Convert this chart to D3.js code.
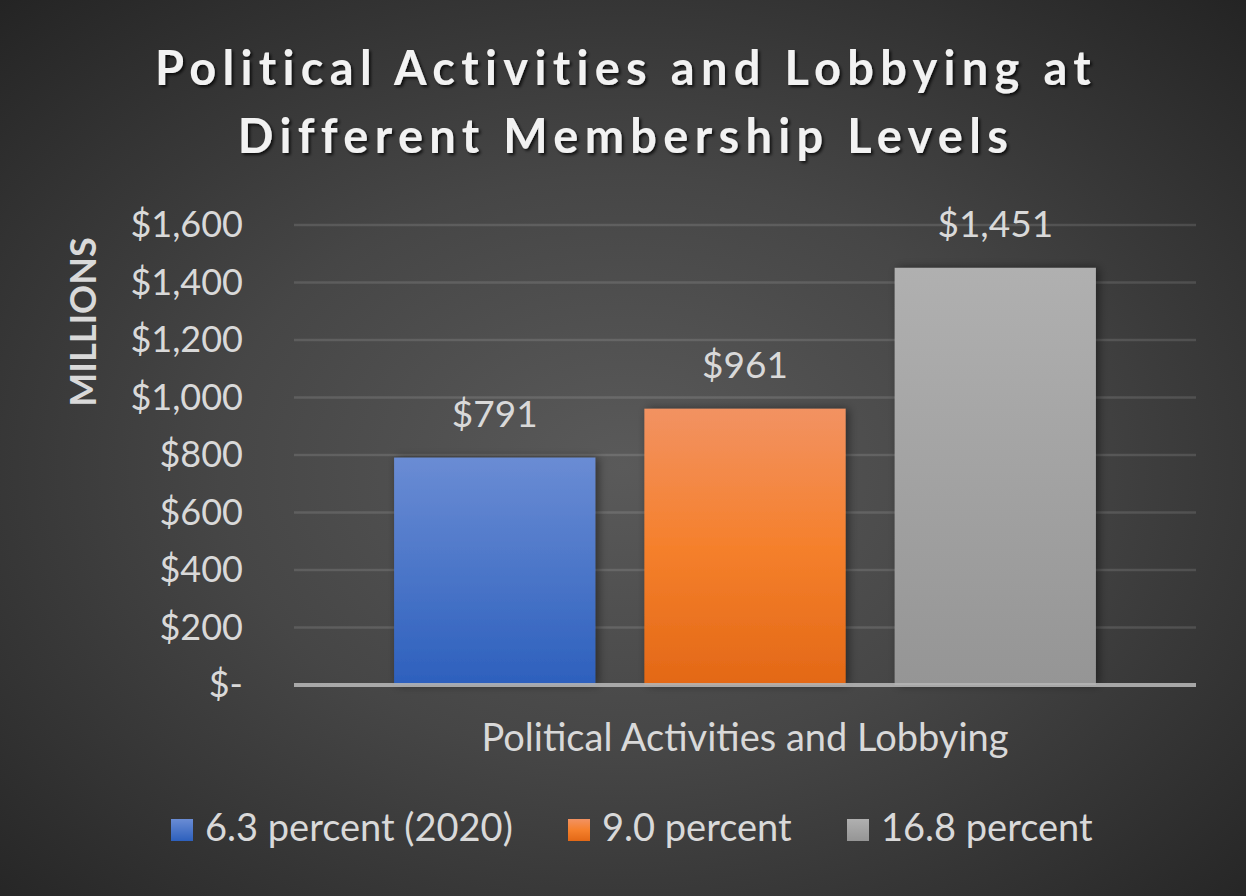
<!DOCTYPE html>
<html>
<head>
<meta charset="utf-8">
<script src="https://cdn.jsdelivr.net/npm/d3@7"></script>
<style>
  html, body { margin: 0; padding: 0; background: #2a2a2a; }
  svg { display: block; }
  text { font-family: Lato, "Open Sans", sans-serif; }
</style>
</head>
<body>
<svg id="chart" width="1246" height="896"></svg>
<script>
const titleLines = ["Political Activities and Lobbying at", "Different Membership Levels"];
const category = "Political Activities and Lobbying";
const seriesNames = ["6.3 percent (2020)", "9.0 percent", "16.8 percent"];
const seriesValues = [791, 961, 1451];
const dataLabels = ["$791", "$961", "$1,451"];
const yTicks = [0, 200, 400, 600, 800, 1000, 1200, 1400, 1600];
const yTickLabels = ["$-", "$200", "$400", "$600", "$800", "$1,000", "$1,200", "$1,400", "$1,600"];
const yAxisTitle = "MILLIONS";
const seriesColors = [
  ["#6a8cd4", "#2d60bd"],
  ["#f29262", "#f5802c", "#e36816"],
  ["#b0b0b0", "#959595"]
];

const W = 1246, H = 896;
const svg = d3.select("#chart");
const defs = svg.append("defs");

// background
const bg = defs.append("radialGradient").attr("id", "bg")
  .attr("cx", "50%").attr("cy", "52%").attr("r", "72%");
bg.append("stop").attr("offset", "0%").attr("stop-color", "#5a5a5a");
bg.append("stop").attr("offset", "45%").attr("stop-color", "#464646");
bg.append("stop").attr("offset", "100%").attr("stop-color", "#242424");
svg.append("rect").attr("width", W).attr("height", H).attr("fill", "url(#bg)");

// bar gradients
seriesColors.forEach((cols, i) => {
  const g = defs.append("linearGradient").attr("id", "bar" + i)
    .attr("x1", 0).attr("y1", 0).attr("x2", 0).attr("y2", 1);
  cols.forEach((c, j) => g.append("stop")
    .attr("offset", (j / (cols.length - 1) * 100) + "%").attr("stop-color", c));
});

const shadow = defs.append("filter").attr("id", "shadow")
  .attr("x", "-20%").attr("y", "-20%").attr("width", "140%").attr("height", "140%");
shadow.append("feDropShadow").attr("dx", 3).attr("dy", 0).attr("stdDeviation", 5)
  .attr("flood-color", "#000").attr("flood-opacity", 0.45);

const tshadow = defs.append("filter").attr("id", "tshadow")
  .attr("x", "-10%").attr("y", "-30%").attr("width", "120%").attr("height", "160%");
tshadow.append("feDropShadow").attr("dx", 2).attr("dy", 2).attr("stdDeviation", 1.6)
  .attr("flood-color", "#000").attr("flood-opacity", 0.75);

// scales
const left = 294, right = 1196;
const y = d3.scaleLinear().domain([0, 1600]).range([685, 225]);
const x0 = d3.scaleBand().domain([category]).range([left, right]).padding(0);
const x1 = d3.scaleBand().domain(seriesNames).range([0, x0.bandwidth()])
  .paddingInner(0.196).paddingOuter(0.4);

// title
svg.append("g").attr("filter", "url(#tshadow)")
  .selectAll("text").data(titleLines).join("text")
  .attr("x", W / 2 + 3).attr("y", (d, i) => 85 + i * 68)
  .attr("text-anchor", "middle")
  .attr("font-size", 47).attr("font-weight", 700)
  .attr("letter-spacing", 6.3)
  .attr("fill", "#f2f2f2")
  .text(d => d);

// gridlines
svg.append("g").selectAll("line").data(yTicks.filter(d => d > 0)).join("line")
  .attr("x1", left).attr("x2", right)
  .attr("y1", d => y(d)).attr("y2", d => y(d))
  .attr("stroke", "#ffffff").attr("stroke-opacity", 0.12).attr("stroke-width", 2.5);

// y axis labels
const yAxis = d3.axisLeft(y).tickValues(yTicks)
  .tickFormat(d => yTickLabels[yTicks.indexOf(d)]).tickSize(0).tickPadding(0);
const ya = svg.append("g").attr("transform", "translate(243,0)").call(yAxis);
ya.select(".domain").remove();
ya.selectAll("text").attr("font-size", 36).attr("fill", "#d9d9d9")
  .attr("font-family", "Lato, 'Open Sans', sans-serif");

// y axis title
svg.append("text")
  .attr("transform", "translate(96,322) rotate(-90)")
  .attr("text-anchor", "middle")
  .attr("font-size", 36).attr("font-weight", 700).attr("fill", "#d9d9d9")
  .text(yAxisTitle);

// bars
const barG = svg.append("g").attr("transform", `translate(${x0(category)},0)`);
barG.selectAll("rect").data(seriesValues).join("rect")
  .attr("x", (d, i) => x1(seriesNames[i]))
  .attr("width", x1.bandwidth())
  .attr("y", d => y(d))
  .attr("height", d => y(0) - y(d))
  .attr("fill", (d, i) => `url(#bar${i})`)
  .attr("filter", "url(#shadow)");

// data labels
barG.selectAll("text").data(seriesValues).join("text")
  .attr("x", (d, i) => x1(seriesNames[i]) + x1.bandwidth() / 2)
  .attr("y", d => y(d) - 31)
  .attr("text-anchor", "middle")
  .attr("font-size", 37).attr("fill", "#d9d9d9")
  .text((d, i) => dataLabels[i]);

// x axis line
svg.append("line")
  .attr("x1", left).attr("x2", right)
  .attr("y1", y(0)).attr("y2", y(0))
  .attr("stroke", "#b4b4b4").attr("stroke-opacity", 0.9).attr("stroke-width", 4);

// category label
const xAxis = d3.axisBottom(x0).tickSize(0).tickPadding(0);
const xa = svg.append("g").attr("transform", "translate(0,724)").call(xAxis);
xa.select(".domain").remove();
xa.selectAll("text").attr("font-size", 38).attr("fill", "#d9d9d9")
  .attr("font-family", "Lato, 'Open Sans', sans-serif");

// legend
const legendX = [171, 568, 847];
const lg = svg.append("g").selectAll("g").data(seriesNames).join("g")
  .attr("transform", (d, i) => `translate(${legendX[i]},819)`);
lg.append("rect").attr("width", 22).attr("height", 22)
  .attr("fill", (d, i) => `url(#bar${i})`);
lg.append("text").attr("x", 34).attr("y", 22)
  .attr("font-size", 38).attr("fill", "#d9d9d9")
  .text(d => d);
</script>
</body>
</html>
